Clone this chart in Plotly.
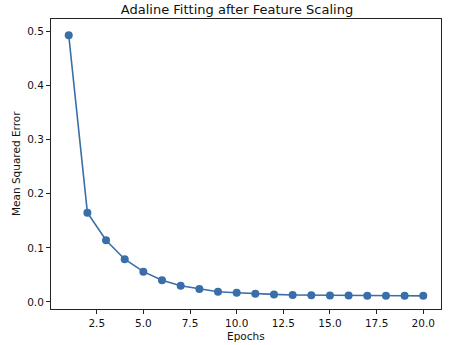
import plotly.graph_objects as go

# Training curve: mean squared error per epoch
epochs = list(range(1, 21))
mse = [0.493, 0.165, 0.114, 0.079, 0.056, 0.040, 0.030, 0.024, 0.019, 0.017,
       0.015, 0.014, 0.013, 0.0125, 0.012, 0.0118, 0.0116, 0.0115, 0.0114, 0.0113]

x_ticks = [2.5, 5.0, 7.5, 10.0, 12.5, 15.0, 17.5, 20.0]
y_ticks = [0.0, 0.1, 0.2, 0.3, 0.4, 0.5]

color = "#3a6ea8"
font = "DejaVu Sans, Arial, sans-serif"
W, H = 474, 345
L, R, T, B = 51, 33, 19, 36

fig = go.Figure(go.Scatter(
    x=epochs, y=mse, mode="lines+markers",
    line=dict(color=color, width=1.6),
    marker=dict(color=color, size=8),
))

axis_common = dict(
    showgrid=False, zeroline=False, showline=True, mirror=True, automargin=False,
    linecolor="#222222", linewidth=1, ticks="outside", ticklen=4,
    tickcolor="#222222", tickwidth=1,
    tickfont=dict(family=font, size=10.5, color="#111111"),
)

fig.update_layout(
    width=W, height=H,
    margin=dict(l=L, r=R, t=T, b=B),
    paper_bgcolor="white", plot_bgcolor="white",
    showlegend=False,
    title=dict(text="Adaline Fitting after Feature Scaling", x=0.5, xanchor="center",
               y=1 - 9 / H, yanchor="middle",
               font=dict(family=font, size=13, color="#111111")),
    xaxis=dict(axis_common, range=[0.05, 20.95], tickvals=x_ticks,
               ticktext=[f"{v:.1f}" for v in x_ticks]),
    yaxis=dict(axis_common, range=[-0.013, 0.523], tickvals=y_ticks,
               ticktext=[f"{v:.1f}" for v in y_ticks]),
    annotations=[
        dict(text="Epochs", xref="paper", yref="paper", x=0.5, y=-(336 - (H - B)) / (H - T - B),
             xanchor="center", yanchor="middle", showarrow=False,
             font=dict(family=font, size=10.5, color="#111111")),
        dict(text="Mean Squared Error", xref="paper", yref="paper",
             x=-(L - 16) / (W - L - R), y=0.5, textangle=-90,
             xanchor="center", yanchor="middle", showarrow=False,
             font=dict(family=font, size=10.5, color="#111111")),
    ],
)

fig.write_html("out.html")
